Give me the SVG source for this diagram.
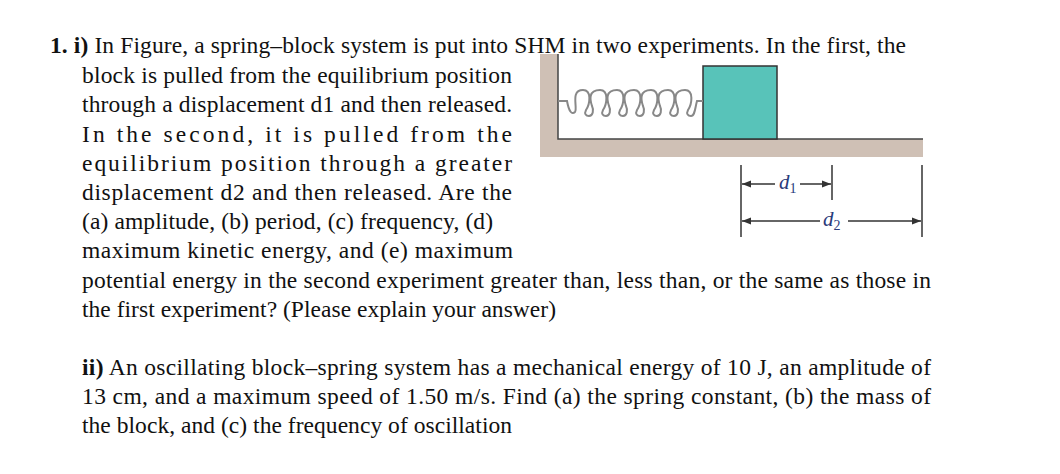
<svg xmlns="http://www.w3.org/2000/svg" width="1060" height="474" viewBox="0 0 1060 474">
<style>
text{font-family:"Liberation Serif","Times New Roman",serif;font-size:23.5px;fill:#111}
.b{font-weight:bold}
.dim{stroke:#333;stroke-width:1.5;fill:none}
.lab{font-style:italic;fill:#2a3a7a;font-size:21px}
.lab tspan{font-size:14px;font-style:normal}
</style>
<defs>
<marker id="ah" viewBox="0 0 10 10" refX="10" refY="5" markerWidth="8" markerHeight="6" orient="auto-start-reverse"><path d="M0,1 L10,5 L0,9 Z" fill="#333"/></marker>
</defs>
<rect width="1060" height="474" fill="#fff"/>
<g id="text1">
<text x="50" y="53" textLength="856" lengthAdjust="spacing"><tspan class="b">1.  i)</tspan> In Figure, a spring–block system is put into SHM in two experiments. In the first, the</text>
<text x="82" y="83" textLength="430" lengthAdjust="spacing">block is pulled from the equilibrium position</text>
<text x="82" y="112" textLength="430" lengthAdjust="spacing">through a displacement d1 and then released.</text>
<text x="82" y="142" textLength="430" lengthAdjust="spacing">In the second, it is pulled from the</text>
<text x="82" y="171" textLength="430" lengthAdjust="spacing">equilibrium position through a greater</text>
<text x="82" y="200" textLength="430" lengthAdjust="spacing">displacement d2 and then released. Are the</text>
<text x="82" y="229" textLength="411" lengthAdjust="spacing">(a) amplitude, (b) period, (c) frequency, (d)</text>
<text x="82" y="258" textLength="431" lengthAdjust="spacing">maximum kinetic energy, and (e) maximum</text>
<text x="82" y="288" textLength="849" lengthAdjust="spacing">potential energy in the second experiment greater than, less than, or the same as those in</text>
<text x="82" y="317" textLength="474" lengthAdjust="spacing">the first experiment? (Please explain your answer)</text>
</g>
<g id="text2">
<text x="82" y="375" textLength="849" lengthAdjust="spacing"><tspan class="b">ii)</tspan> An oscillating block–spring system has a mechanical energy of 10 J, an amplitude of</text>
<text x="82" y="404" textLength="849" lengthAdjust="spacing">13 cm, and a maximum speed of 1.50 m/s. Find (a) the spring constant, (b) the mass of</text>
<text x="82" y="433" textLength="430" lengthAdjust="spacing">the block, and (c) the frequency of oscillation</text>
</g>
<g id="figure">
<path d="M540,54 H558 V139 H923 V157 H540 Z" fill="#cfc0b5"/>
<path d="M558,54 V139 H923" stroke="#444" stroke-width="1.5" fill="none"/>
<rect x="703" y="66" width="74" height="73" fill="#58c3b9" stroke="#333" stroke-width="1.5"/>
<g id="spring" fill="none" stroke="#888" stroke-width="2">
<path d="M558,101 H567 C569,112 572,115 575,112 C578,108 570,90 583,90 C592,90 590,104 586,110 C584,114 586,116 589,116 C593,116 594,110 592,106 C590,100 588,90 600,90 C609,90 607,104 603,110 C601,114 603,116 606,116 C610,116 611,110 609,106 C607,100 605,90 617,90 C626,90 624,104 620,110 C618,114 620,116 623,116 C627,116 628,110 626,106 C624,100 622,90 634,90 C643,90 641,104 637,110 C635,114 637,116 640,116 C644,116 645,110 643,106 C641,100 639,90 651,90 C660,90 658,104 654,110 C652,114 654,116 657,116 C661,116 662,110 660,106 C658,100 656,90 668,90 C677,90 675,104 671,110 C669,114 671,116 674,116 C678,116 679,110 677,106 C675,100 673,90 685,90 C694,90 692,104 688,110 C686,114 688,116 691,116 C695,116 695,108 697,101 H703"/>
</g>
</g>
<g id="connectors">
<line class="dim" x1="741" y1="165" x2="741" y2="237"/>
<line class="dim" x1="832" y1="165" x2="832" y2="200"/>
<line class="dim" x1="922" y1="165" x2="922" y2="237"/>
<line class="dim" x1="742" y1="184" x2="775" y2="184" marker-start="url(#ah)"/>
<line class="dim" x1="800" y1="184" x2="831" y2="184" marker-end="url(#ah)"/>
<line class="dim" x1="742" y1="221" x2="820" y2="221" marker-start="url(#ah)"/>
<line class="dim" x1="848" y1="221" x2="921" y2="221" marker-end="url(#ah)"/>
<text class="lab" x="779" y="189">d<tspan dy="4">1</tspan></text>
<text class="lab" x="823" y="226">d<tspan dy="4">2</tspan></text>
</g>
</svg>
